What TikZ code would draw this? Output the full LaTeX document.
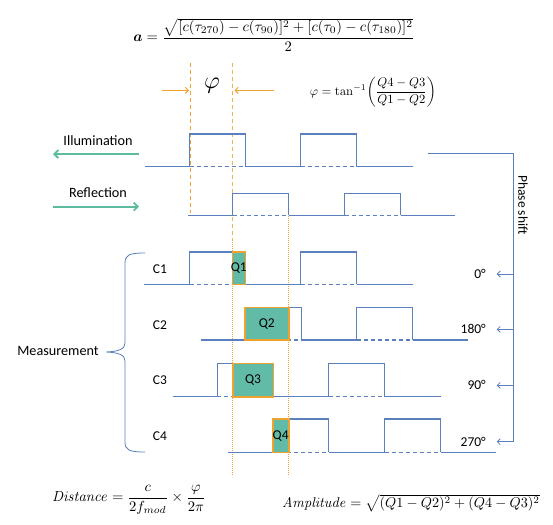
\documentclass[tikz,border=0pt]{standalone}
\usepackage{amsmath}
\usepackage[no-math]{fontspec}
\setmainfont{Carlito}
\usetikzlibrary{arrows.meta}
\definecolor{wblue}{HTML}{5B80BD}
\definecolor{teal}{HTML}{62BBA7}
\definecolor{tealarrow}{HTML}{5DBB9F}
\definecolor{qorange}{HTML}{EFA22E}
\definecolor{lorange}{HTML}{F2B155}
\tikzset{
  base/.style={wblue, line width=1.5pt},
  pulse/.style={wblue, line width=1.1pt},
  under/.style={wblue, line width=1.3pt, dash pattern=on 4pt off 3pt},
  qbox/.style={draw=qorange, fill=teal, line width=1.6pt, inner sep=0pt},
  lbl/.style={font=\fontsize{13.5}{15}\selectfont, inner sep=0pt},
  biglbl/.style={font=\fontsize{14.2}{16}\selectfont, inner sep=0pt},
  mathnode/.style={inner sep=0pt, transform shape=false},
  teala/.style={tealarrow, line width=1.8pt, -{Straight Barb[length=4pt,width=8pt]}},
  oarrow/.style={qorange, line width=1pt, -{Straight Barb[length=3pt,width=6pt]}},
  barrow/.style={wblue, line width=0.8pt, -{Straight Barb[length=3pt,width=6pt]}},
  odash/.style={qorange, line width=1pt, dash pattern=on 4pt off 3pt},
  odot/.style={qorange, line width=0.6pt, dash pattern=on 1pt off 1pt},
}
\newcommand{\wavef}[8]{%
  \draw[base] (#3,#1) -- (#4,#1) (#5,#1) -- (#6,#1) (#7,#1) -- (#8,#1);
  \draw[under] (#4,#1) -- (#5,#1) (#6,#1) -- (#7,#1);
  \draw[pulse] (#4,#1) -- (#4,#2) -- (#5,#2) -- (#5,#1);
  \draw[pulse] (#6,#1) -- (#6,#2) -- (#7,#2) -- (#7,#1);
}
\begin{document}
\begin{tikzpicture}[x=1pt,y=-1pt]
\useasboundingbox (0,0) rectangle (553,524);
\fill[white] (0,0) rectangle (553,524);

% top formula
\node[mathnode, scale=1.46] (fa) at (274,35) {$\boldsymbol{a}=\dfrac{\sqrt{[c(\tau_{270})-c(\tau_{90})]^2+[c(\tau_0)-c(\tau_{180})]^2}}{2}$};

% orange guide lines
\draw[odash] (190,63) -- (190,213);
\draw[odash, lorange] (232.7,63) -- (232.7,240);
\draw[odot] (232.7,240) -- (232.7,476);
\draw[odot] (288.7,216) -- (288.7,476);

% phi arrows
\coordinate (pl0) at (161.7,90.3);
\coordinate (pl1) at (189,90.3);
\coordinate (pr0) at (274,90.3);
\coordinate (pr1) at (234.5,90.3);
\draw[oarrow] (pl0) -- (pl1);
\draw[oarrow] (pr0) -- (pr1);
\node[mathnode, scale=2.4] (phi) at (212,86) {$\varphi$};
\node[mathnode, scale=1.26] (fphi) at (373,92) {$\varphi=\tan^{-1}\!\left(\dfrac{Q4-Q3}{Q1-Q2}\right)$};

% Illumination / Reflection
\node[biglbl] (ill) at (98,140.7) {Illumination};
\coordinate (ia0) at (139,154);
\coordinate (ia1) at (53,154);
\draw[teala] (ia0) -- (ia1);
\node[biglbl] (refl) at (98,192.3) {Reflection};
\coordinate (ra0) at (53,206.7);
\coordinate (ra1) at (139,206.7);
\draw[teala] (ra0) -- (ra1);

% waveforms
\wavef{166.7}{134}{144.7}{189.5}{245.3}{300.7}{356.7}{412.7}
\wavef{215.3}{193.3}{188.3}{232.7}{288.7}{344.7}{400.7}{455.3}
\wavef{284.3}{252}{144.3}{189.7}{245.3}{300.7}{356.7}{412.7}
\wavef{340}{307.3}{200.7}{245}{301.3}{356.7}{412.7}{468.3}
\wavef{396.7}{363.3}{172.7}{217.3}{273.3}{328.7}{384.7}{440.7}
\wavef{452.3}{419}{228.3}{273}{328.7}{384.7}{440.7}{496}

% Q boxes
\draw[qbox] (232.3,252) rectangle (245.3,284.3);
\node[lbl] (q1) at (238.8,268.5) {Q1};
\draw[qbox] (245,307.3) rectangle (288.7,340);
\node[lbl] (q2) at (266.8,323.6) {Q2};
\draw[qbox] (232.7,363.3) rectangle (273.3,396.7);
\node[lbl] (q3) at (253,380) {Q3};
\draw[qbox] (272.7,419) rectangle (288.7,452.3);
\node[lbl] (q4) at (280.7,435.6) {Q4};

% C labels
\node[lbl] (c1) at (160,269) {C1};
\node[lbl] (c2) at (160,325) {C2};
\node[lbl] (c3) at (160,380.5) {C3};
\node[lbl] (c4) at (160,436) {C4};

% Measurement brace
\node[biglbl] (meas) at (58,351) {Measurement};
\draw[wblue, line width=0.8pt] (145,253) .. controls (129,253) and (125,255) .. (125,263) -- (125,343)
  .. controls (125,349) and (119,351.5) .. (106,352)
  .. controls (119,352.5) and (125,355) .. (125,361) -- (125,442)
  .. controls (125,450) and (129,452) .. (145,452);

% phase shift
\coordinate (ps0) at (428.3,153.7);
\coordinate (ps1) at (513.7,153.7);
\coordinate (ps2) at (513.7,441.7);
\coordinate (pa4) at (496.7,441.7);
\draw[wblue, line width=0.8pt] (ps0) -- (ps1) -- (ps2);
\draw[barrow] (ps2) -- (pa4);
\foreach \yy/\nm in {274/a, 329.3/b, 385.3/c}{
  \coordinate (pb\nm) at (513.7,\yy);
  \coordinate (pe\nm) at (496.7,\yy);
  \draw[barrow] (pb\nm) -- (pe\nm);
}
\node[lbl, rotate=-90] (pst) at (523,205) {Phase shift};
\node[lbl, anchor=east] (d0) at (486,274) {0°};
\node[lbl, anchor=east] (d180) at (486,329.3) {180°};
\node[lbl, anchor=east] (d90) at (486,385.3) {90°};
\node[lbl, anchor=east] (d270) at (486,441.7) {270°};

% bottom formulas
\node[mathnode, scale=1.46] (fdist) at (129,500) {$\mathit{Distance}=\dfrac{c}{2f_{mod}}\times\dfrac{\varphi}{2\pi}$};
\node[mathnode, scale=1.42] (famp) at (411,503) {$\mathit{Amplitude}=\sqrt{(Q1-Q2)^2+(Q4-Q3)^2}$};
\end{tikzpicture}
\end{document}
